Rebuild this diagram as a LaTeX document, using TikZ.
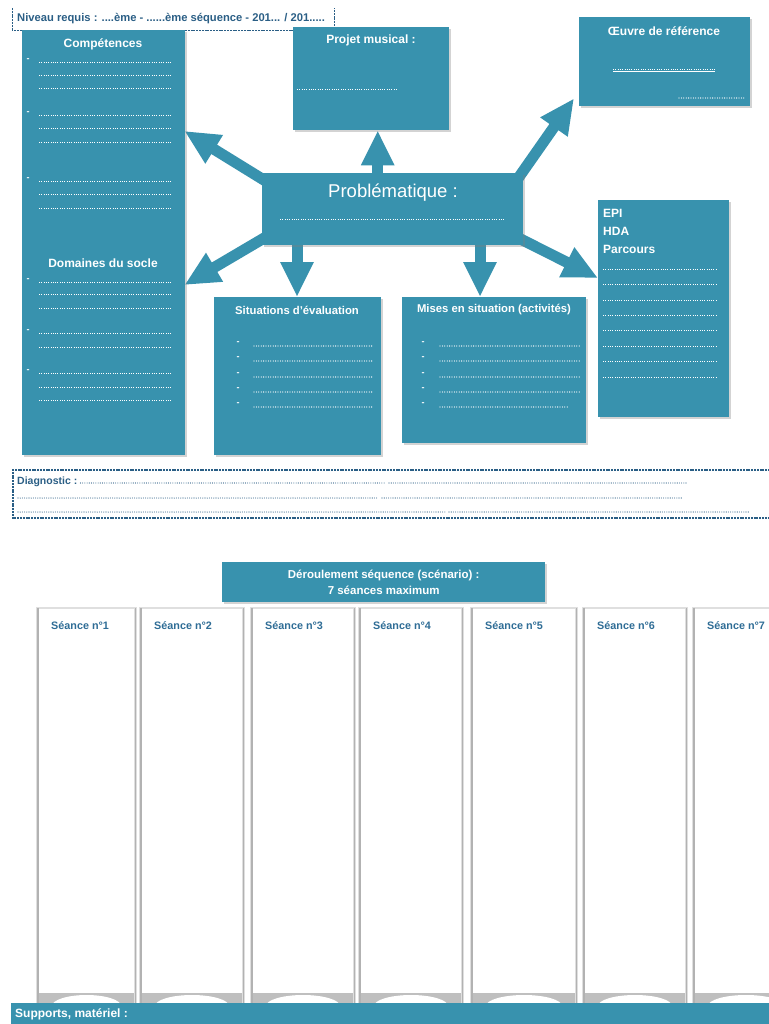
\documentclass[tikz,border=0pt]{standalone}
\usepackage{fontspec}
\setsansfont{Liberation Sans}
\usetikzlibrary{arrows.meta, positioning, shadows, backgrounds}
\definecolor{sarcelle}{HTML}{3892AE}
\definecolor{encre}{HTML}{2A5E85}
\definecolor{encreclair}{HTML}{2F6D96}

\begin{document}
\begin{tikzpicture}[x=1pt, y=-1pt,
  font=\sffamily,
  bloc/.style={rectangle, fill=sarcelle, anchor=north west, inner sep=0pt,
    drop shadow={shadow xshift=1.5pt, shadow yshift=-1.5pt, opacity=0.35}},
  titre/.style={text=white, inner sep=0pt, font=\sffamily\bfseries\fontsize{12}{14}\selectfont},
  tiret/.style={text=white, inner sep=0pt, font=\sffamily\bfseries\fontsize{9}{10}\selectfont},
  seance/.style={anchor=west, text=encreclair, inner sep=0pt, font=\sffamily\bfseries\fontsize{10.8}{12}\selectfont},
  pointille/.style={white, line width=0.5pt, dash pattern=on 1pt off 1.3pt},
  pointsblancs/.style={white, line width=1.3pt, line cap=round, dash pattern=on 0pt off 2.4pt},
  pointsencre/.style={encre, line width=1.1pt, line cap=round, dash pattern=on 0pt off 2.2pt},
  cadre/.style={encre, line width=1.3pt, dash pattern=on 2pt off 0.8pt},
  fleche/.style={sarcelle, line width=11pt, -{Triangle[length=35pt, width=31pt]}},
]
\useasboundingbox (0,0) rectangle (768,1024);

% Niveau requis
\node[anchor=west, text=encre, inner sep=0pt, font=\sffamily\bfseries\fontsize{11.2}{13}\selectfont] (niveau) at (17,19)
  {Niveau requis : ....ème - ......ème séquence - 201... / 201.....};
\draw[cadre, line width=1pt] (12,8) -- (12,31) -- (334,31) -- (334,8);

% Blocs
\node[bloc, minimum width=163, minimum height=425] (comp) at (22,30) {};
\node[bloc, minimum width=156, minimum height=103] (projet) at (293,27) {};
\node[bloc, minimum width=171, minimum height=89] (oeuvre) at (579,17) {};
\node[bloc, minimum width=261, minimum height=72] (prob) at (262,173) {};
\node[bloc, minimum width=131, minimum height=217] (epi) at (598,200) {};
\node[bloc, minimum width=167, minimum height=158] (situ) at (214,297) {};
\node[bloc, minimum width=184, minimum height=146] (mises) at (402,297) {};

% Fleches
\begin{scope}[on background layer]
\draw[fleche] ([xshift=-15pt, yshift=-10pt]prob.north) -- ([xshift=-15pt]prob.north |- projet.south);
\draw[fleche] ([xshift=10pt, yshift=-12pt]prob.north west) -- ([xshift=-1pt, yshift=-101pt]comp.north east);
\draw[fleche] ([xshift=10pt, yshift=12pt]prob.south west) -- ([xshift=-1pt, yshift=-255pt]comp.north east);
\draw[fleche] ([xshift=35pt, yshift=10pt]prob.south west) -- ([xshift=35pt]prob.south west |- situ.north);
\draw[fleche] ([xshift=218pt, yshift=10pt]prob.south west) -- ([xshift=218pt]prob.south west |- mises.north);
\draw[fleche] ([xshift=-10pt, yshift=-12pt]prob.north east) -- ([xshift=-5pt, yshift=8pt]oeuvre.south west);
\draw[fleche] ([xshift=-10pt, yshift=10pt]prob.south east) -- ([yshift=-78pt]epi.north west);
\end{scope}

% Competences / Domaines du socle
\node[titre] (tcomp) at (103,44) {Compétences};
\node[titre] (tsocle) at (103,263) {Domaines du socle};
\foreach \y in {62,75,88,115,128,142,181,194,208,282,294,308,333,347,373,387,400}
  \draw[pointille] (39,\y) -- (172,\y);
\foreach \y in {62,115,181,282,333,373}
  \node[tiret] at (28,\y-2) {-};

% Projet musical
\node[titre] (tprojet) at (371,40) {Projet musical :};
\draw[pointille] (297,89) -- (398,89);

% Oeuvre de reference
\node[titre] (toeuvre) at (664,31) {Œuvre de référence};
\draw[pointille] (613,69) -- (715,69);
\draw[white, line width=0.6pt] (613,71.5) -- (715,71.5);
\draw[pointsblancs] (679,98) -- (745,98);

% Problematique
\node[text=white, inner sep=0pt, font=\sffamily\fontsize{18.5}{20}\selectfont] (tprob) at (393,193) {Problématique :};
\draw[pointille] (280,219) -- (505,219);

% EPI
\node[titre, anchor=west] (tepi) at (603,213) {EPI};
\node[titre, anchor=west] (thda) at (603,231) {HDA};
\node[titre, anchor=west] (tparcours) at (603,249) {Parcours};
\foreach \y in {269,284,300,315,330,346,361,377}
  \draw[pointille] (603,\y) -- (717,\y);

% Situations d'evaluation
\node[titre, font=\sffamily\bfseries\fontsize{11.3}{13}\selectfont] (tsitu) at (297,310) {Situations d'évaluation};
\foreach \y in {346,361,377,392,407} {
  \node[tiret] at (238,\y-3) {-};
  \draw[pointsblancs] (254,\y) -- (373,\y);
}

% Mises en situation
\node[titre, font=\sffamily\bfseries\fontsize{11.3}{13}\selectfont] (tmises) at (494,310) {Mises en situation (activités)};
\foreach \y in {346,361,377,392} {
  \node[tiret] at (423,\y-3) {-};
  \draw[pointsblancs] (440,\y) -- (580,\y);
}
\node[tiret] at (423,404) {-};
\draw[pointsblancs] (440,407) -- (569,407);

% Diagnostic
\draw[cadre] (770,470) -- (13,470) -- (13,518) -- (770,518);
\node[anchor=west, text=encre, inner sep=0pt, font=\sffamily\bfseries\fontsize{10.5}{12}\selectfont] (diag) at (17,482) {Diagnostic :};
\draw[pointsencre] (diag.east) ++(3,1) -- (385,483);
\draw[pointsencre] (389,483) -- (688,483);
\draw[pointsencre] (18,498) -- (378,498);
\draw[pointsencre] (382,498) -- (683,498);
\draw[pointsencre] (18,512) -- (445,512);
\draw[pointsencre] (449,512) -- (750,512);

% Seances
\foreach \g/\d/\n in {36/137/1,139/245/2,250/356/3,358/464/4,470/578/5,582/688/6,692/800/7} {
  \fill[gray!25] (\g,607) rectangle (\d,1003);
  \fill[gray!60] (\g+1,608) rectangle (\g+2.5,1003);
  \fill[gray!60] (\d-2.5,608) rectangle (\d-1,1003);
  \fill[gray!50] (\g+3,993) rectangle (\d-3,1003);
  \fill[white] (\g+3,608.5) rectangle (\d-3,993);
  \begin{scope}
    \clip (\g+3,993) rectangle (\d-3,1003);
    \fill[white] ({(\g+\d)/2},1006) ellipse [x radius={(\d-\g)/2-16}, y radius=11];
  \end{scope}
  \node[seance] (s\n) at (\g+15,626) {Séance n°\n};
}

% Deroulement
\node[bloc, minimum width=323, minimum height=40, align=center, text=white,
  font=\sffamily\bfseries\fontsize{11.5}{16}\selectfont] (deroul) at (222,562)
  {Déroulement séquence (scénario) :\\7 séances maximum};

% Supports
\node[bloc, minimum width=760, minimum height=22] (supports) at (11,1003) {};
\node[titre] (tsupports) [anchor=west] at (15,1014) {Supports, matériel :};

\end{tikzpicture}
\end{document}
